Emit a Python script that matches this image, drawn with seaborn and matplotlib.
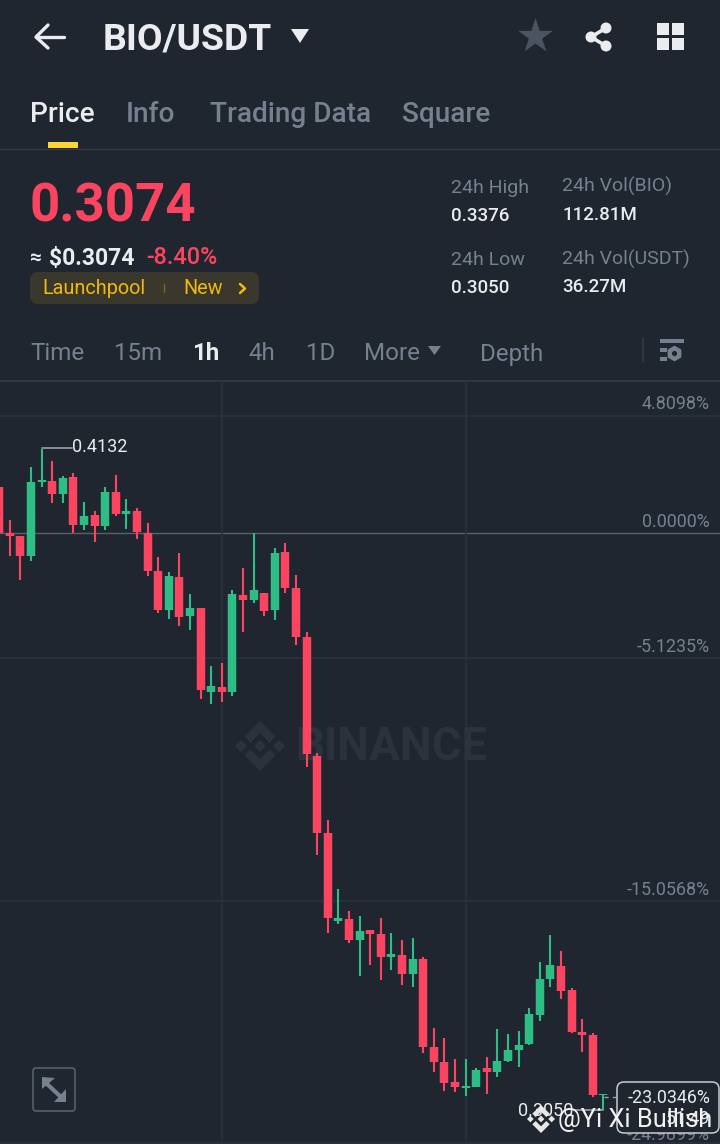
import numpy as np
import pandas as pd
import matplotlib.pyplot as plt
from matplotlib.patches import FancyBboxPatch, Polygon, Rectangle, Circle
import seaborn as sns

# candle data
opens = [0.4070, 0.3995, 0.3990, 0.3957, 0.4078, 0.4079, 0.4058, 0.4086, 0.4008, 0.4024,
         0.4006, 0.4062, 0.4026, 0.4031, 0.3995, 0.3932, 0.3868, 0.3923, 0.3858, 0.3871,
         0.3735, 0.3742, 0.3734, 0.3893, 0.3885, 0.3897, 0.3868, 0.3963, 0.3904, 0.3824,
         0.3630, 0.3503, 0.3360, 0.3363, 0.3328, 0.3344, 0.3338, 0.3300, 0.3304, 0.3273,
         0.3298, 0.3153, 0.3129, 0.3096, 0.3086, 0.3087, 0.3119, 0.3112, 0.3131, 0.3148,
         0.3158, 0.3206, 0.3265, 0.3286, 0.3246, 0.3178, 0.3173, 0.3074]
highs = [0.4070, 0.4016, 0.3990, 0.4103, 0.4132, 0.4112, 0.4088, 0.4092, 0.4045, 0.4030,
         0.4070, 0.4089, 0.4050, 0.4036, 0.4011, 0.3955, 0.3931, 0.3962, 0.3895, 0.3871,
         0.3777, 0.3781, 0.3901, 0.3937, 0.3995, 0.3897, 0.3970, 0.3978, 0.3926, 0.3832,
         0.3635, 0.3524, 0.3411, 0.3376, 0.3368, 0.3344, 0.3364, 0.3339, 0.3328, 0.3331,
         0.3300, 0.3184, 0.3168, 0.3133, 0.3133, 0.3118, 0.3137, 0.3183, 0.3175, 0.3180,
         0.3217, 0.3292, 0.3336, 0.3310, 0.3249, 0.3199, 0.3176, 0.3077]
lows = [0.3982, 0.3957, 0.3918, 0.3948, 0.4070, 0.4044, 0.4044, 0.3994, 0.3999, 0.3979,
        0.3999, 0.4022, 0.4001, 0.3984, 0.3924, 0.3864, 0.3854, 0.3842, 0.3835, 0.3723,
        0.3715, 0.3718, 0.3728, 0.3832, 0.3880, 0.3859, 0.3852, 0.3897, 0.3811, 0.3612,
        0.3467, 0.3340, 0.3354, 0.3324, 0.3270, 0.3287, 0.3263, 0.3279, 0.3254, 0.3251,
        0.3143, 0.3112, 0.3081, 0.3079, 0.3073, 0.3087, 0.3077, 0.3104, 0.3129, 0.3121,
        0.3156, 0.3196, 0.3252, 0.3232, 0.3176, 0.3145, 0.3071, 0.3050]
closes = [0.3995, 0.3990, 0.3956, 0.4078, 0.4081, 0.4058, 0.4084, 0.4008, 0.4023, 0.4006,
          0.4062, 0.4025, 0.4031, 0.3996, 0.3933, 0.3868, 0.3924, 0.3857, 0.3872, 0.3737,
          0.3744, 0.3734, 0.3894, 0.3885, 0.3901, 0.3867, 0.3962, 0.3904, 0.3824, 0.3633,
          0.3504, 0.3364, 0.3364, 0.3328, 0.3343, 0.3338, 0.3300, 0.3306, 0.3273, 0.3297,
          0.3153, 0.3129, 0.3095, 0.3087, 0.3089, 0.3115, 0.3112, 0.3130, 0.3148, 0.3156,
          0.3207, 0.3265, 0.3287, 0.3245, 0.3178, 0.3172, 0.3074, 0.3077]

pct_ticks = [4.8098, 0.0, -5.1235, -15.0568, -24.9899]
pct_labels = ["4.8098%", "0.0000%", "-5.1235%", "-15.0568%", "-24.9899%"]
base_price = 0.39941  # price at the 0% line

BG = "#1f2630"
RED = "#fb4560"
GREEN = "#2ebd85"
WHITE = "#eaecef"
GRAY = "#76808f"
GRID = "#2b323d"
FONT = "Roboto"

sns.set_theme(style="dark", rc={"axes.facecolor": BG, "figure.facecolor": BG})
plt.rcParams["font.family"] = [FONT, "DejaVu Sans"]

fig = plt.figure(figsize=(7.2, 11.44), dpi=100)

# chart area runs from y=381 to the bottom of the picture
ax = fig.add_axes([0, 0, 1, 763 / 1144])
ax.set_facecolor(BG)

df = pd.DataFrame({"candle": range(len(opens)), "open": opens, "high": highs,
                   "low": lows, "close": closes})
df["side"] = np.where(df["close"] >= df["open"], "up", "down")
palette = {"up": GREEN, "down": RED}

wicks = df.melt(id_vars=["candle", "side"], value_vars=["low", "high"], value_name="price")
bodies = df.melt(id_vars=["candle", "side"], value_vars=["open", "close"], value_name="price")

for pct in pct_ticks:
    price = base_price * (1 + pct / 100)
    col = "#59606b" if pct == 0 else GRID
    ax.axhline(price, color=col, lw=1.0 if pct == 0 else 1.2, zorder=1)
for c in [21, 44]:
    ax.axvline(c, color=GRID, lw=1.2, zorder=1)

sns.lineplot(data=wicks, x="candle", y="price", hue="side", units="candle", estimator=None,
             sort=False, palette=palette, linewidth=1.5, legend=False, ax=ax, zorder=4,
             solid_capstyle="butt")
sns.lineplot(data=bodies, x="candle", y="price", hue="side", units="candle", estimator=None,
             sort=False, palette=palette, linewidth=6.1, legend=False, ax=ax, zorder=5,
             solid_capstyle="butt")

ax.set_xlim(0.07, 67.99)
ax.set_ylim(0.29944, 0.42432)
ax.set_xlabel("")
ax.set_ylabel("")
ax.set_xticks([])
ax.set_yticks([])
sns.despine(ax=ax, left=True, bottom=True)

# overlay in pixel coordinates for the app chrome around the chart
ui = fig.add_axes([0, 0, 1, 1], zorder=10)
ui.set_xlim(0, 720)
ui.set_ylim(1144, 0)
ui.axis("off")
ui.patch.set_alpha(0)


def label(x, y, s, size, color=WHITE, weight="normal", ha="left", z=12):
    ui.text(x, y, s, fontsize=size, color=color, fontweight=weight, ha=ha, va="center", zorder=z)


def binance_logo(cx, cy, r, color, z):
    shapes = [[(0, -1), (.62, -.38), (.38, -.14), (0, -.52), (-.38, -.14), (-.62, -.38)],
              [(0, 1), (.62, .38), (.38, .14), (0, .52), (-.38, .14), (-.62, .38)],
              [(0, -.24), (.24, 0), (0, .24), (-.24, 0)],
              [(-.76, -.24), (-.52, 0), (-.76, .24), (-1, 0)],
              [(.76, -.24), (1, 0), (.76, .24), (.52, 0)]]
    for pts in shapes:
        ui.add_patch(Polygon([(cx + px * r, cy + py * r) for px, py in pts], color=color, lw=0, zorder=z))


# header
ui.plot([36, 64], [37, 37], color=WHITE, lw=2.4, zorder=12)
ui.plot([48, 36, 48], [25, 37, 48], color=WHITE, lw=2.4, zorder=12)
label(103, 39.5, "BIO/USDT", 26.8, weight="bold")
ui.add_patch(Polygon([(291, 29), (309, 29), (300, 43)], color=WHITE, lw=0, zorder=12))
ui.scatter([535], [36], marker="*", s=700, color="#4c5361", lw=0, zorder=12)
ui.plot([606, 591, 606], [28, 37, 46], color=WHITE, lw=2.6, zorder=12)
for cx, cy in [(606, 28), (591, 37), (606, 46)]:
    ui.add_patch(Circle((cx, cy), 5.5, color=WHITE, lw=0, zorder=12))
for x0, y0 in [(657, 23), (672, 23), (657, 38), (672, 38)]:
    ui.add_patch(Rectangle((x0, y0), 11.5, 11.5, color=WHITE, lw=0, zorder=12))

# tabs
label(30, 114.5, "Price", 20.2, weight="medium")
label(126, 114.5, "Info", 20.2, GRAY, "medium")
label(210, 114.5, "Trading Data", 20.2, GRAY, "medium")
label(402, 114.5, "Square", 20.2, GRAY, "medium")
ui.add_patch(Rectangle((48, 142), 30, 6, color="#fcd535", lw=0, zorder=12))
ui.plot([0, 720], [149, 149], color="#353b46", lw=0.9, zorder=12)

# price block
label(30, 207, "0.3074", 38, RED, "bold")
label(30, 258, "≈", 15, WHITE, "bold")
label(49, 258, "$0.3074", 16.5, WHITE, "bold")
label(146, 258, "-8.40%", 16.8, RED, "medium")
ui.add_patch(FancyBboxPatch((30, 272), 229, 32, boxstyle="round,pad=0,rounding_size=8",
                            mutation_aspect=1, fc="#3a372c", lw=0, zorder=11))
label(42, 289, "Launchpool", 14.3, "#f0b90b")
ui.plot([163.5, 163.5], [284, 292], color="#7d6a1e", lw=1, zorder=12)
label(183, 289, "New", 14.3, "#f0b90b")
ui.plot([240, 245, 240], [284, 288.5, 293], color="#f0b90b", lw=1.8, zorder=12)

label(451, 188, "24h High", 14, GRAY)
label(451, 216, "0.3376", 13.5, WHITE, "medium")
label(451, 260, "24h Low", 14, GRAY)
label(451, 288, "0.3050", 13.5, WHITE, "medium")
label(562, 186, "24h Vol(BIO)", 14, GRAY)
label(562, 215, "112.81M", 13.5, WHITE, "medium")
label(562, 259, "24h Vol(USDT)", 14, GRAY)
label(562, 287, "36.27M", 13.5, WHITE, "medium")

# interval row
label(30, 353, "Time", 17.4, GRAY)
label(114, 353, "15m", 17.4, GRAY)
label(192, 353, "1h", 17.4, WHITE, "bold")
label(248, 353, "4h", 17.4, GRAY)
label(306, 353, "1D", 17.4, GRAY)
label(364, 353, "More", 17.4, GRAY)
ui.add_patch(Polygon([(428, 346), (441, 346), (434.5, 355)], color=GRAY, lw=0, zorder=12))
label(480, 354, "Depth", 17.4, GRAY)
ui.plot([643, 643], [338, 362], color="#353b46", lw=1.2, zorder=12)
ui.add_patch(Rectangle((660, 339), 24, 3.5, color=GRAY, lw=0, zorder=12))
ui.add_patch(Rectangle((660, 348), 7, 3.5, color=GRAY, lw=0, zorder=12))
ui.add_patch(Rectangle((660, 357), 7, 3.5, color=GRAY, lw=0, zorder=12))
ui.scatter([674], [353], marker="h", s=130, color=GRAY, lw=0, zorder=12)
ui.scatter([674], [353], marker="o", s=14, color=BG, lw=0, zorder=13)
ui.plot([0, 720], [380.5, 380.5], color="#353b46", lw=1.2, zorder=12)

# axis labels
for y, s in zip([404, 522, 647, 890, 1135], pct_labels):
    label(710, y, s, 12.9, GRAY, ha="right", z=3)

# watermark in the middle of the chart, under the candles
binance_logo(260, 746, 25, "#2c323d", 2)
ax.text(295, 747, "BINANCE", fontsize=32.8, color="#2c323d", fontweight="bold", ha="left", va="center",
        zorder=2, transform=ui.transData)

# high / low markers
ui.plot([42, 72], [448, 448], color="#9aa0a8", lw=1.2, zorder=12)
label(72, 447.5, "0.4132", 13, WHITE)
ui.plot([575, 603], [1110, 1110], color="#9aa0a8", lw=1.2, zorder=12)
label(518, 1110.5, "0.3050", 13, WHITE)

# last price tag
ui.plot([604, 617], [1097, 1097], color="#9aa0a8", lw=1, ls=(0, (3, 3)), zorder=12)
ui.add_patch(FancyBboxPatch((617, 1082), 102, 51, boxstyle="round,pad=0,rounding_size=7",
                            mutation_aspect=1, fc=BG, ec="#c9ccd1", lw=1.1, zorder=11))
label(710, 1098, "-23.0346%", 12.9, WHITE, ha="right")
label(710, 1119, "51:49", 12.9, WHITE, ha="right")

# expand button
ui.add_patch(FancyBboxPatch((33, 1068), 42, 43, boxstyle="round,pad=0,rounding_size=3",
                            mutation_aspect=1, fc="none", ec="#5d6470", lw=1.1, zorder=12))
ui.plot([46, 62], [1083, 1098], color=GRAY, lw=3, zorder=12)
ui.add_patch(Polygon([(42, 1077), (55, 1078), (42, 1089)], color=GRAY, lw=0, zorder=12))
ui.add_patch(Polygon([(66, 1089), (66, 1102), (54, 1102)], color=GRAY, lw=0, zorder=12))

# poster watermark
binance_logo(541, 1119, 14, "#e8e8e8", 14)
label(558, 1120, "@Yi Xi Bullish", 18.3, "#f2f2f2", z=15)

fig.savefig("out.png", dpi=100, facecolor=BG)
